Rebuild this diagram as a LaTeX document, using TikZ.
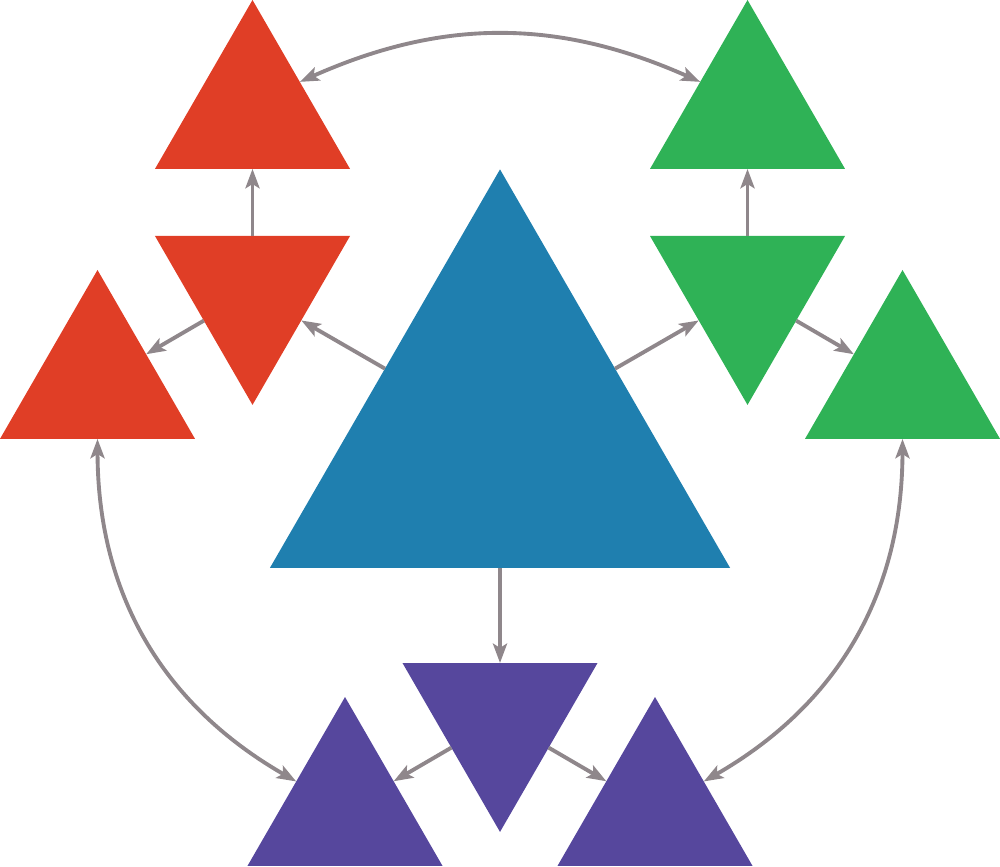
\documentclass[tikz,border=0pt]{standalone}
\usetikzlibrary{arrows.meta}
\usetikzlibrary{shapes.geometric}
\definecolor{trired}{RGB}{224,62,38}
\definecolor{trigreen}{RGB}{47,178,86}
\definecolor{triblue}{RGB}{31,127,175}
\definecolor{tripurple}{RGB}{86,71,157}
\definecolor{linkgray}{RGB}{143,135,139}
\begin{document}
\begin{tikzpicture}[
          tri/.style={regular polygon, regular polygon sides=3, inner sep=0pt, outer sep=0pt, minimum size=2.252cm, draw=none},
          down/.style={shape border rotate=180},
          link/.style={draw=linkgray, line width=1.1pt, -{Stealth[length=5.5pt,width=4pt,inset=1.2pt]}},
          both/.style={link, {Stealth[length=5.5pt,width=4pt,inset=1.2pt]}-{Stealth[length=5.5pt,width=4pt,inset=1.2pt]}}]
          \useasboundingbox (0,0) rectangle (10,8.66);

          \node[tri, fill=triblue, minimum size=5.312cm] (b) at (5,4.31) {};

          \node[tri, fill=trired] (r1) at (2.525,7.534) {};
          \node[tri, down, fill=trired] (r2) at (2.525,5.737) {};
          \node[tri, fill=trired] (r3) at (0.975,4.834) {};

          \node[tri, fill=trigreen] (g1) at (7.475,7.534) {};
          \node[tri, down, fill=trigreen] (g2) at (7.475,5.737) {};
          \node[tri, fill=trigreen] (g3) at (9.025,4.834) {};

          \node[tri, down, fill=tripurple] (p1) at (5,1.467) {};
          \node[tri, fill=tripurple] (p2) at (3.45,0.564) {};
          \node[tri, fill=tripurple] (p3) at (6.55,0.564) {};

          \draw[link] (b) -- (r2);
          \draw[link] (r2) -- (r1);
          \draw[link] (r2) -- (r3);
          \draw[link] (b) -- (g2);
          \draw[link] (g2) -- (g1);
          \draw[link] (g2) -- (g3);
          \draw[link] (b) -- (p1);
          \draw[link] (p1) -- (p2);
          \draw[link] (p1) -- (p3);

          \draw[both] (r1.33) to[bend left=24] (g1.147);
          \draw[both] (r3.-90) to[bend right=30] (p2.150);
          \draw[both] (g3.-90) to[bend left=30] (p3.30);
        \end{tikzpicture}
\end{document}
